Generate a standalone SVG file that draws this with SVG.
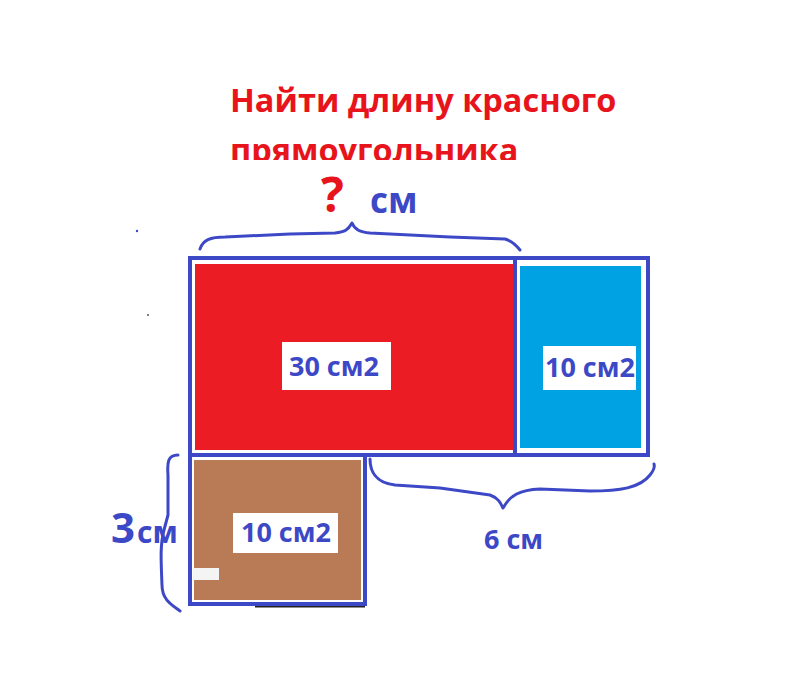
<svg xmlns="http://www.w3.org/2000/svg" width="804" height="689" viewBox="0 0 804 689">
<defs>
<style>
.t{font-family:"Open Sans","Liberation Sans",sans-serif;font-weight:bold}
.red{fill:#e8141c}
.blue{fill:#3d48c6}
.edge{fill:none;stroke:#3d48c6;stroke-width:4}
.brace{fill:none;stroke:#3d48c6;stroke-width:3;stroke-linecap:round;stroke-linejoin:round}
.lbl{fill:#ffffff}
</style>
<clipPath id="cut"><rect x="0" y="0" width="804" height="160"/></clipPath>
</defs>
<rect width="804" height="689" fill="#ffffff"/>
<g id="title">
<text class="t red" x="230" y="112" font-size="32.5">Найти длину красного</text>
<text class="t red" x="230" y="162" font-size="32.5" clip-path="url(#cut)">прямоугольника</text>
</g>
<g id="question">
<text class="t red" x="321" y="212" font-size="48">?</text>
<text class="t blue" x="370" y="213" font-size="35">см</text>
</g>
<g id="red-rect">
<rect x="195" y="264" width="318" height="186" fill="#ec1c24"/>
<rect x="282" y="342" width="109" height="48" class="lbl"/>
<text class="t blue" x="334" y="376" font-size="27" text-anchor="middle">30 см2</text>
</g>
<g id="blue-rect">
<rect x="520" y="266" width="121" height="182" fill="#00a2e4"/>
<rect x="543" y="346" width="93" height="44" class="lbl"/>
<text class="t blue" x="590" y="377" font-size="27" text-anchor="middle">10 см2</text>
</g>
<g id="brown-rect">
<rect x="194" y="460" width="167" height="140" fill="#b97a56"/>
<rect x="233" y="513" width="105" height="40" class="lbl"/>
<text class="t blue" x="286" y="542" font-size="27" text-anchor="middle">10 см2</text>
<rect x="193" y="568" width="26" height="12" fill="#f4f4f4"/>
<line x1="255" y1="606" x2="365" y2="606" stroke="#222222" stroke-width="3"/>
</g>
<g id="outlines">
<rect x="190" y="258" width="458" height="197" class="edge"/>
<line x1="515" y1="258" x2="515" y2="455" class="edge" stroke-width="3"/>
<rect x="190" y="455" width="175" height="149" class="edge"/>
</g>
<g id="connectors">
<path class="brace" d="M200,249 C203,240 210,237 225,237 L290,234 L335,233 C345,232 348,230 352,223 C355,230 360,232 370,233 L450,237 L505,239 C512,241 516,245 520,250"/>
<path class="brace" d="M178,455 C168,455 167,462 168,475 L168,515 L164,530 C160,545 161,560 162,585 C162,600 172,605 180,611"/>
<path class="brace" d="M370,459 C370,470 375,483 395,485 L440,488 L490,495 C498,498 500,502 503,508 C510,495 520,490 540,489 L590,491 C620,491 640,488 650,475 C654,470 655,467 654,464"/>
</g>
<g id="labels">
<text class="t blue" x="111" y="543" font-size="42">3</text>
<text class="t blue" x="137" y="543" font-size="30">см</text>
<text class="t blue" x="484" y="549" font-size="27">6 см</text>
</g>
<circle cx="137" cy="231" r="1.2" fill="#3d48c6"/>
<circle cx="148" cy="315" r="1" fill="#555555"/>
</svg>
